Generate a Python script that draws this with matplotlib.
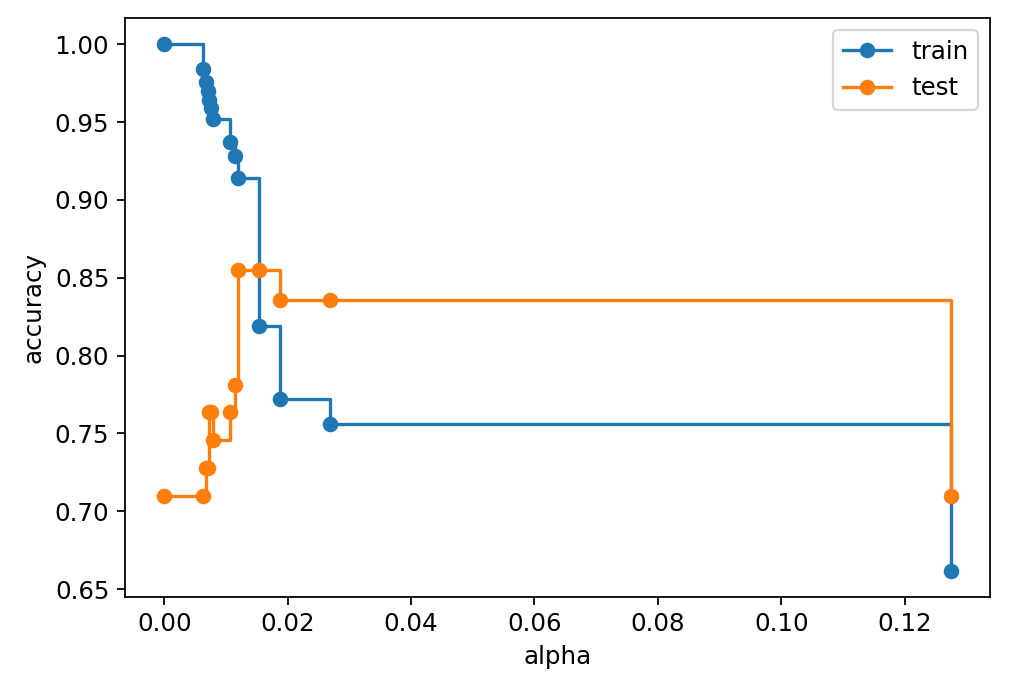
import matplotlib
matplotlib.use("Agg")
import matplotlib.pyplot as plt

alphas = [0.0, 0.0062, 0.0068, 0.0071, 0.0073, 0.0076, 0.0079, 0.0107, 0.0115,
          0.0120, 0.0154, 0.0188, 0.0268, 0.1275]
train_scores = [1.0, 0.984, 0.976, 0.970, 0.964, 0.959, 0.952, 0.937, 0.928,
                0.914, 0.819, 0.772, 0.756, 0.662]
test_scores = [0.710, 0.710, 0.728, 0.728, 0.764, 0.764, 0.746, 0.764, 0.781,
               0.855, 0.855, 0.836, 0.836, 0.710]

plt.rcParams['font.size'] = 11
fig, ax = plt.subplots(figsize=(6.4, 4.2875), dpi=160)
fig.subplots_adjust(left=0.122, right=0.967, top=0.974, bottom=0.13)
ax.plot(alphas, train_scores, marker="o", label="train", drawstyle="steps-post")
ax.plot(alphas, test_scores, marker="o", label="test", drawstyle="steps-post")
ax.set_xlabel("alpha")
ax.set_ylabel("accuracy")
ax.legend()
fig.savefig("out.png")
